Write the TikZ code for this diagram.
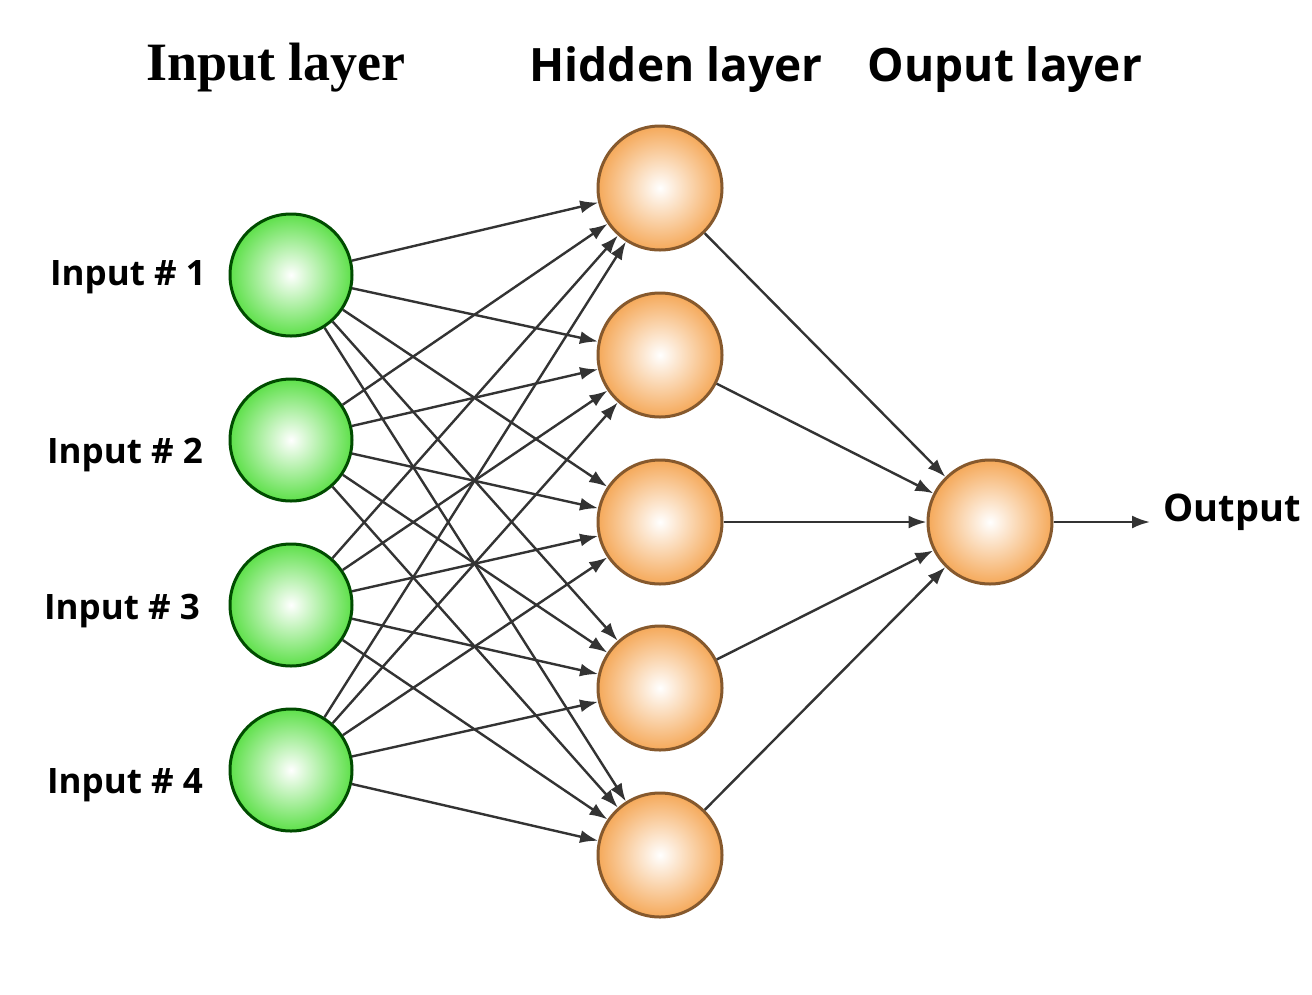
\documentclass[tikz,border=0pt]{standalone}
\usepackage{fontspec}
\setmainfont{Liberation Serif}
\newfontfamily\sansf{Open Sans}
\usetikzlibrary{arrows.meta}
\definecolor{ingreen}{HTML}{5EE04A}
\definecolor{hidor}{HTML}{F5A95A}
\begin{document}
\begin{tikzpicture}[x=1pt,y=-1pt,
  inn/.style={circle,minimum size=122pt,inner sep=0pt,draw=black!70!green,line width=3pt,inner color=white,outer color=ingreen},
  hid/.style={circle,minimum size=124pt,inner sep=0pt,draw=brown!70!black,line width=3pt,inner color=white,outer color=hidor},
  edge/.style={draw=black!80,line width=2.4pt,-{Latex[length=18pt,width=13pt]}},
  lab/.style={font=\sansf\bfseries\fontsize{35}{40}\selectfont},
  head/.style={font=\sansf\bfseries\fontsize{46}{52}\selectfont}]
\useasboundingbox[fill=white] (0,0) rectangle (1312,994);
\foreach \i/\y in {1/275,2/440,3/605,4/770}
  \node[inn] (i\i) at (291,\y) {};
\foreach \j/\y in {1/188,2/355,3/522,4/688,5/855}
  \node[hid] (h\j) at (660,\y) {};
\node[hid] (o) at (990,522) {};
\coordinate (out) at (1150,522);
\foreach \i in {1,...,4}
  \foreach \j in {1,...,5}
    \draw[edge] (i\i) -- (h\j);
\foreach \j in {1,...,5}
  \draw[edge] (h\j) -- (o);
\draw[edge] (o) -- (out);
\node[lab,anchor=west,font=\sansf\bfseries\fontsize{38}{44}\selectfont] (ol) at (1160,512) {Output};
\node[lab] (l1) at (128,277) {Input \# 1};
\node[lab] (l2) at (125,455) {Input \# 2};
\node[lab] (l3) at (122,611) {Input \# 3};
\node[lab] (l4) at (125,785) {Input \# 4};
\node[font=\bfseries\fontsize{54}{60}\selectfont] (t1) at (276,68) {Input layer};
\node[head] (t2) at (676,70) {Hidden layer};
\node[head] (t3) at (1005,70) {Ouput layer};
\end{tikzpicture}
\end{document}
